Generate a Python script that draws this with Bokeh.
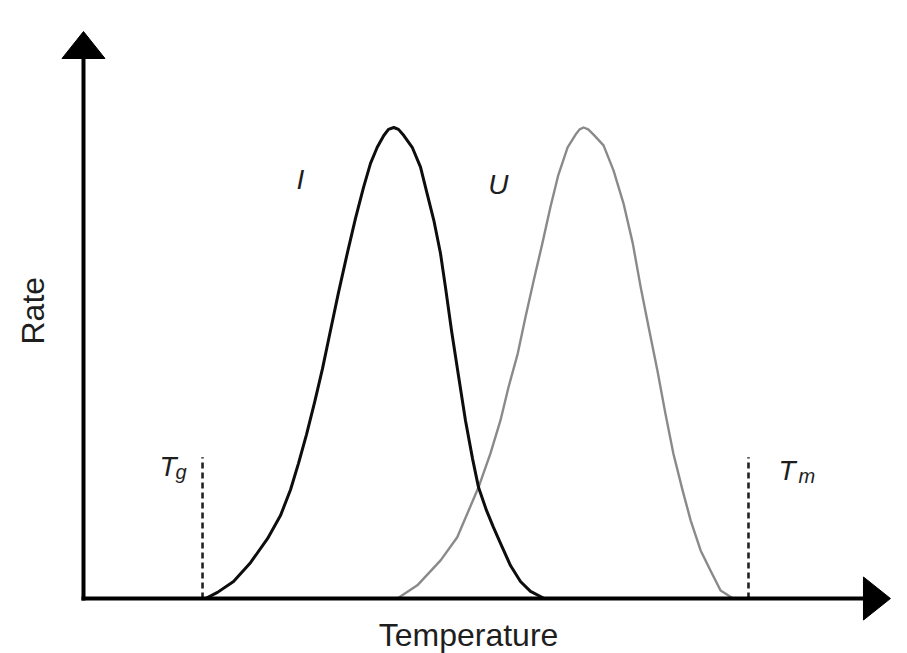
import numpy as np
from bokeh.plotting import figure
from bokeh.models import Range1d, Label
from bokeh.embed import file_html
from bokeh.resources import INLINE

# ---- data (arbitrary units) ----
# curve "I"
temp_I = [18.35, 20.15, 22.56, 25.11, 27.67, 29.62, 31.13, 32.33, 33.53, 34.74, 35.94,
          37.14, 38.35, 39.70, 40.90, 42.11, 43.16, 44.17, 45.16, 45.86, 46.66, 47.37,
          48.17, 49.43, 50.68, 51.68, 52.68, 53.68, 54.44, 55.34, 56.39, 57.44, 58.50,
          59.40, 60.60, 61.65, 62.71, 64.21, 65.71, 67.22, 69.30]
rate_I = [0.000, 0.013, 0.036, 0.076, 0.127, 0.176, 0.231, 0.287, 0.348, 0.416, 0.488,
          0.569, 0.650, 0.735, 0.807, 0.873, 0.924, 0.958, 0.983, 0.996, 1.000, 0.996,
          0.983, 0.958, 0.916, 0.859, 0.803, 0.733, 0.660, 0.569, 0.473, 0.378, 0.297,
          0.236, 0.187, 0.151, 0.117, 0.070, 0.036, 0.015, 0.000]

# curve "U"
temp_U = [47.2, 50.2, 53.7, 56.2, 59.4, 61.2, 62.7, 63.9, 65.3, 66.5, 67.7, 69.0, 70.2,
          71.4, 72.8, 74.0, 74.6, 75.2, 75.9, 76.7, 78.2, 79.7, 81.2, 82.6, 83.8, 85.0,
          86.3, 87.5, 88.7, 90.1, 91.3, 92.8, 94.3, 95.8, 97.7]
rate_U = [0.000, 0.028, 0.081, 0.130, 0.236, 0.308, 0.378, 0.448, 0.520, 0.600, 0.675,
          0.754, 0.830, 0.899, 0.958, 0.985, 0.996, 1.000, 0.996, 0.985, 0.962, 0.909,
          0.839, 0.754, 0.660, 0.575, 0.484, 0.393, 0.308, 0.229, 0.166, 0.102, 0.059,
          0.017, 0.000]

# characteristic temperatures and marker height
T_g = 17.9
T_m = 100.0
marker_height = 0.30

curve_labels = ["I", "U"]
axis_labels = ["Temperature", "Rate"]

# ---- figure ----
W, H = 907, 653
x0, x1 = -12.481, 123.91
y0, y1 = -0.11677, 1.26964
sx = W / (x1 - x0)   # px per x unit
sy = H / (y1 - y0)   # px per y unit

p = figure(width=W, height=H, x_range=Range1d(x0, x1), y_range=Range1d(y0, y1),
           x_axis_type=None, y_axis_type=None, output_backend="svg",
           toolbar_location=None, min_border=0, background_fill_color="white",
           border_fill_color="white", outline_line_color=None)

# dashed markers
p.segment(x0=[T_g, T_m], y0=[0, 0], x1=[T_g, T_m], y1=[marker_height, marker_height],
          line_color="#222222", line_width=2.6, line_dash="6 4")

# curves
p.line(temp_U, rate_U, line_color="#8a8a8a", line_width=2.4, line_join="round")
p.line(temp_I, rate_I, line_color="#0d0d0d", line_width=3, line_join="round")

# axes as arrows
y_top = 1.2038
x_right = 121.35
head_len = 27
head_half = 21.5
p.line([0, 0], [-2 / sy, y_top - head_len / sy], line_color="black", line_width=4)
p.line([-2 / sx, x_right - head_len / sx], [0, 0], line_color="black", line_width=4)
p.patches(
    xs=[[-head_half / sx, 0, head_half / sx],
        [x_right - head_len / sx, x_right, x_right - head_len / sx]],
    ys=[[y_top - head_len / sy, y_top, y_top - head_len / sy],
        [-head_half / sy, 0, head_half / sy]],
    fill_color="black", line_color="black", line_width=1)

font = "Liberation Sans"
txt = "#1e1e1e"

def lab(x, y, text, size, italic=False, align="left", angle=0.0):
    p.add_layout(Label(x=x, y=y, text=text, text_font=font, text_font_size=size,
                       text_font_style="italic" if italic else "normal",
                       text_color=txt, text_align=align, text_baseline="middle",
                       angle=angle))

lab(57.9, -0.0775, axis_labels[0], "32px", align="center")
lab(-7.52, 0.611, axis_labels[1], "32px", align="center", angle=np.pi / 2)

lab(32.6, 0.8896, curve_labels[0], "28px", italic=True, align="center")
lab(62.4, 0.879, curve_labels[1], "28px", italic=True, align="center")

# T_g and T_m labels (T with subscript)
lab(11.43, 0.2813, "T", "28px", italic=True)
lab(13.83, 0.2696, "g", "20px", italic=True)
lab(104.5, 0.2728, "T", "28px", italic=True)
lab(107.52, 0.2611, "m", "20px", italic=True)

open("out.html", "w").write(file_html(p, INLINE))
